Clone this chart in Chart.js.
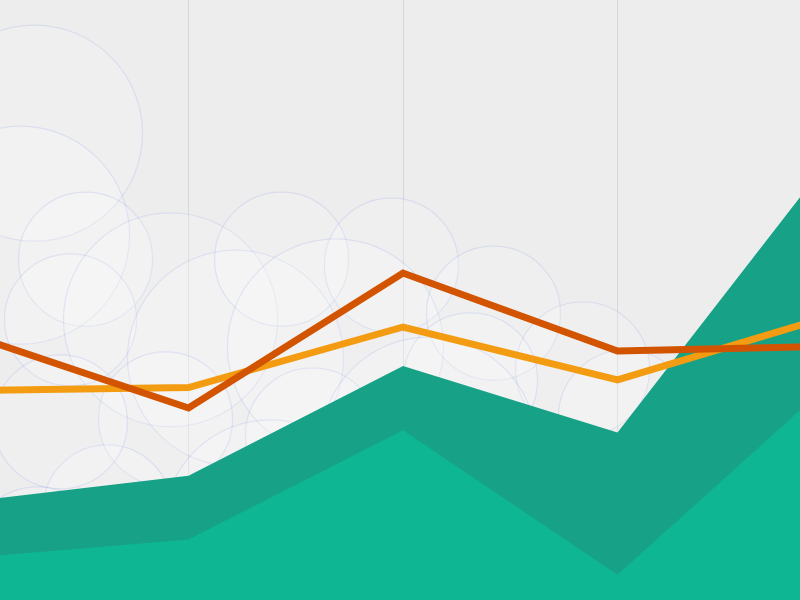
<!DOCTYPE html>
<html>
<head>
<meta charset="utf-8">
<script src="https://cdn.jsdelivr.net/npm/chart.js@4/dist/chart.umd.min.js"></script>
<style>
  html, body { margin: 0; padding: 0; width: 800px; height: 600px; overflow: hidden; background: #ededed; }
  /* plot runs a bit past both edges of the window, first and last points are off-screen */
  #wrap { position: absolute; left: -26.5px; top: 0; width: 858px; height: 600px; }
</style>
</head>
<body>
<div id="wrap"><canvas id="chart"></canvas></div>
<script>
// ── Data ─────────────────────────────────────────────────────────────
var steps = [0, 1, 2, 3, 4];

var seriesDark   = [44.0, 32.0, 54.5, 41.5, 42.3];   // dark orange line
var seriesLight  = [34.9, 35.4, 45.5, 36.7, 47.4];   // orange line
var areaBack     = [16.5, 20.7, 39.0, 27.9, 74.0];   // green sea area
var areaFront    = [7.1, 10.1, 28.3, 4.2, 36.4];     // turquoise area

// background bubbles (x in steps, y in value units, r in px)
var bubbleX = [0.282, 0.217, 0.520, 0.450, 0.916, 1.219, 1.434, 1.946, 1.685, 2.422,
               2.837, 2.315, 0.893, 0.622, 0.403, 0.296, 1.578, 1.382, 2.119, 3.037];
var bubbleY = [77.8, 60.8, 56.8, 46.7, 46.7, 40.3, 56.8, 55.8, 42.2, 47.8,
               38.5, 36.7, 30.2, 15.2, 29.7, 7.7, 27.5, 12.2, 25.8, 30.5];
var bubbleR = [108, 109, 67, 66, 107, 108, 67, 67, 108, 67,
               67, 67, 67, 64, 67, 67, 67, 107, 108, 67];

function pairs(values) {
  return values.map(function(v, i) { return { x: steps[i], y: v }; });
}

var bubbles = bubbleX.map(function(x, i) {
  return { x: x, y: bubbleY[i], r: bubbleR[i] };
});

var ctx = document.getElementById('chart').getContext('2d');

new Chart(ctx, {
  data: {
    datasets: [
      {
        type: 'line',
        data: pairs(seriesDark),
        borderColor: '#d35400',
        borderWidth: 7,
        pointRadius: 0,
        tension: 0,
        fill: false,
        order: 1
      },
      {
        type: 'line',
        data: pairs(seriesLight),
        borderColor: '#f39c12',
        borderWidth: 7,
        pointRadius: 0,
        tension: 0,
        fill: false,
        order: 2
      },
      {
        type: 'line',
        data: pairs(areaFront),
        borderWidth: 0,
        borderColor: 'transparent',
        backgroundColor: '#0eb694',
        pointRadius: 0,
        tension: 0,
        fill: 'origin',
        order: 3
      },
      {
        type: 'line',
        data: pairs(areaBack),
        borderWidth: 0,
        borderColor: 'transparent',
        backgroundColor: '#17a287',
        pointRadius: 0,
        tension: 0,
        fill: 'origin',
        order: 4
      },
      {
        type: 'bubble',
        data: bubbles,
        backgroundColor: 'rgba(255, 255, 255, 0.15)',
        borderColor: 'rgba(90, 120, 230, 0.14)',
        borderWidth: 1.2,
        order: 5
      }
    ]
  },
  options: {
    responsive: true,
    maintainAspectRatio: false,
    animation: false,
    layout: { padding: 0, autoPadding: false },  // bubbles would otherwise push the plot inward
    plugins: {
      legend: { display: false },
      tooltip: { enabled: false }
    },
    scales: {
      x: {
        type: 'linear',
        min: 0,
        max: 4,
        ticks: { display: false, stepSize: 1 },
        grid: { display: true, color: 'rgba(0, 0, 0, 0.09)', lineWidth: 1, drawTicks: false },
        border: { display: false }
      },
      y: {
        display: false,
        min: 0,
        max: 100
      }
    }
  }
});
</script>
</body>
</html>
